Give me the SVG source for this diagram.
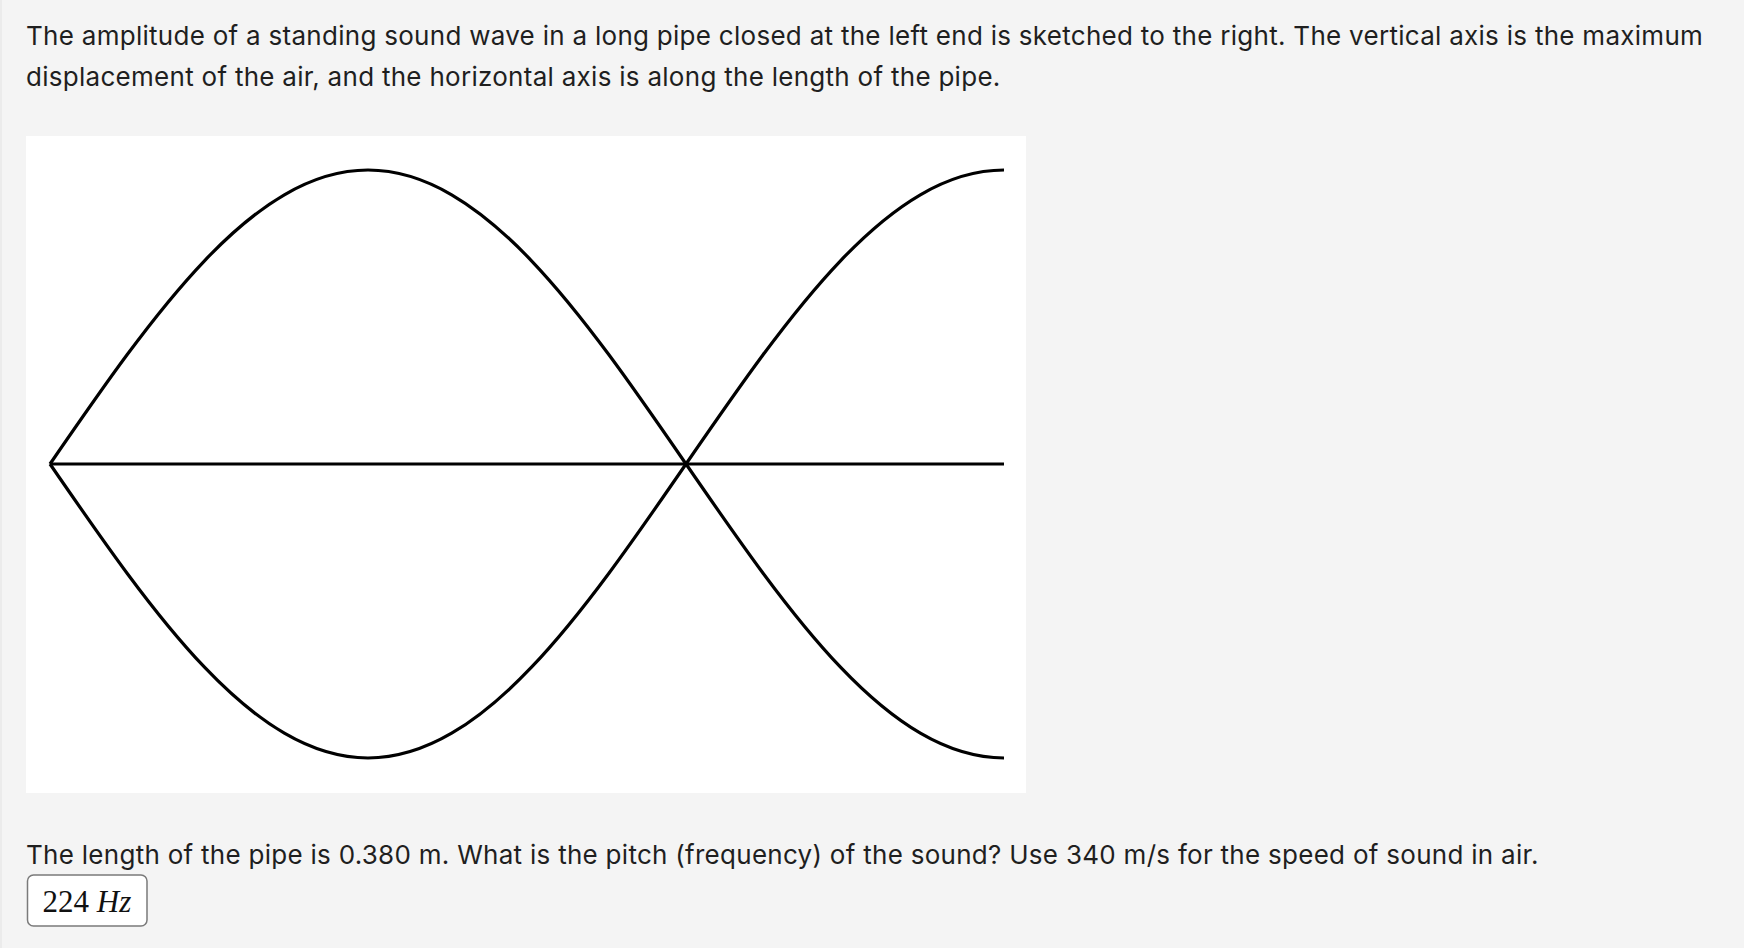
<svg xmlns="http://www.w3.org/2000/svg" width="1744" height="948" viewBox="0 0 1744 948">
  <style>
    .txt { font-family: Inter, "Liberation Sans", Arial, sans-serif; font-size: 26px; letter-spacing: 0.28px; fill: #1f1f1f; }
    .curve { fill: none; stroke: #000000; stroke-width: 3.2; stroke-linejoin: round; stroke-linecap: butt; }
    .ans { font-family: "Liberation Serif", "Times New Roman", serif; font-size: 31px; fill: #111111; }
  </style>
  <rect x="0" y="0" width="1744" height="948" fill="#f4f4f4"/>
  <line x1="1" y1="0" x2="1" y2="948" stroke="#ebebeb" stroke-width="2"/>

  <g id="question-text">
    <text class="txt" x="26" y="45">The amplitude of a standing sound wave in a long pipe closed at the left end is sketched to the right. The vertical axis is the maximum</text>
    <text class="txt" x="26" y="85.5">displacement of the air, and the horizontal axis is along the length of the pipe.</text>
  </g>

  <g id="figure">
    <rect x="26" y="136" width="1000" height="657" fill="#ffffff"/>
    <g id="connectors">
      <line class="curve" x1="50" y1="464" x2="1004" y2="464"/>
      <path id="upper-wave" class="curve" d="M50,464 C153.7,313.4 252.9,170 368,170 C483.1,170 582.3,313.4 686,464 C789.7,614.6 888.9,758 1004,758"/>
      <path id="lower-wave" class="curve" d="M50,464 C153.7,614.6 252.9,758 368,758 C483.1,758 582.3,614.6 686,464 C789.7,313.4 888.9,170 1004,170"/>
    </g>
  </g>

  <g id="question-bottom">
    <text class="txt" x="26" y="863.5">The length of the pipe is 0.380 m. What is the pitch (frequency) of the sound? Use 340 m/s for the speed of sound in air.</text>
  </g>

  <g id="answer-box">
    <rect x="27.5" y="875" width="119.5" height="51" rx="6" ry="6" fill="#ffffff" stroke="#7a7a7a" stroke-width="1.5"/>
    <text class="ans" x="42.5" y="911.5">224 <tspan font-style="italic">Hz</tspan></text>
  </g>
</svg>
